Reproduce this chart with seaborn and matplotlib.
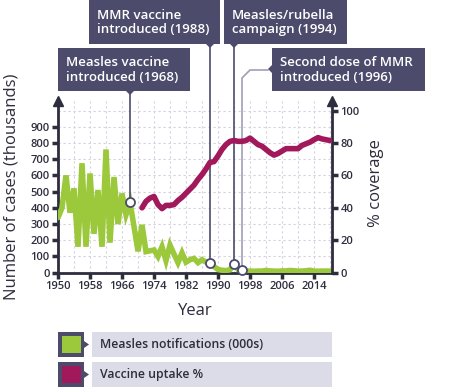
import numpy as np
import pandas as pd
import matplotlib
matplotlib.use("Agg")
import matplotlib.pyplot as plt
from matplotlib.patches import Rectangle, Polygon
import seaborn as sns

# measles notifications, England & Wales (thousands)
case_years = list(range(1950, 2019))
cases = [340, 400, 600, 370, 520, 160, 675, 160, 612, 240,
         510, 160, 760, 185, 590, 300, 488, 358, 434, 285,
         132, 295, 130, 135, 140, 100, 160, 75, 170, 115,
         62, 122, 65, 80, 88, 62, 80, 66, 62, 38,
         20, 15, 13, 18, 55, 20, 18, 11, 10, 9,
         10, 10, 14, 11, 10, 9, 11, 11, 14, 12,
         10, 10, 12, 15, 10, 9, 10, 10, 10]

# MMR / measles vaccine uptake (%)
uptake_years = list(range(1971, 2019))
uptake = [40, 44, 46, 47, 42, 39.5, 41.5, 41.5, 42, 44.5,
          46.5, 49, 51.5, 54, 57.5, 60.5, 64, 68, 68.5, 72,
          76, 79, 81, 81.5, 81, 81, 81.5, 83, 81, 79,
          78, 76, 74, 72.5, 73.5, 75, 76.5, 76.5, 76.5, 76.5,
          78.5, 79.5, 80.5, 82, 83.3, 82.5, 82, 81.5]

event_years = [1968, 1988, 1994, 1996]
event_text = ["Measles vaccine\nintroduced (1968)",
              "MMR vaccine\nintroduced (1988)",
              "Measles/rubella\ncampaign (1994)",
              "Second dose of MMR\nintroduced (1996)"]

x_ticks = list(range(1950, 2015, 8))
left_ticks = list(range(0, 1000, 100))
right_ticks = list(range(0, 101, 20))

legend_labels = ["Measles notifications (000s)", "Vaccine uptake %"]

GREEN = "#9cc93b"
PURPLE = "#a2195b"
NAVY = "#4c4b6c"
LAV = "#dcdbe8"
DARK = "#2e2d3d"
GRID = "#d3d1e0"

sns.set_style("white")
plt.rcParams["font.family"] = ["Open Sans", "DejaVu Sans"]

W, H = 464, 387
fig = plt.figure(figsize=(W / 100, H / 100), dpi=100)

x0, x1 = 58, 332
y_zero, y_top = 272.7, 100.8
ax = fig.add_axes([x0 / W, (H - y_zero) / H, (x1 - x0) / W, (y_zero - y_top) / H])
ax.set_xlim(1950, 2018.5)
ax.set_ylim(0, 1060)

# grid
for gx in range(1954, 2019, 4):
    ax.axvline(gx, color=GRID, lw=0.8, ls=(0, (2, 2.5)), zorder=0)
for gy in range(100, 1001, 100):
    ax.axhline(gy, color=GRID, lw=0.8, ls=(0, (2, 2.5)), zorder=0)

df_cases = pd.DataFrame({"year": case_years, "cases": cases})
sns.lineplot(data=df_cases, x="year", y="cases", ax=ax, color=GREEN, lw=4,
             solid_joinstyle="miter", zorder=3)

ax2 = ax.twinx()
ax2.set_ylim(0, 106)
df_up = pd.DataFrame({"year": uptake_years, "uptake": uptake})
sns.lineplot(data=df_up, x="year", y="uptake", ax=ax2, color=PURPLE, lw=4,
             zorder=3)

# axes styling
for a in (ax, ax2):
    for s in a.spines.values():
        s.set_visible(False)
    a.set_xlabel("")
    a.set_ylabel("")
ax.spines["left"].set_visible(True)
ax.spines["bottom"].set_visible(True)
ax2.spines["right"].set_visible(True)
for s in (ax.spines["left"], ax.spines["bottom"], ax2.spines["right"]):
    s.set_color(DARK)
    s.set_linewidth(2)

ax.plot([0, 1], [1, 1], "^", transform=ax.transAxes, color=DARK, ms=7,
        clip_on=False, zorder=6)

ax.set_xticks(x_ticks)
ax.set_xticklabels([str(t) for t in x_ticks])
ax.set_yticks(left_ticks)
ax.set_yticklabels([str(t) for t in left_ticks])
ax2.set_yticks(right_ticks)
ax2.set_yticklabels([str(t) for t in right_ticks])
ax.tick_params(axis="both", direction="out", length=4, width=2.5, color=DARK,
               labelsize=8, labelcolor=DARK, pad=2, left=True, bottom=True)
ax2.tick_params(axis="y", direction="out", length=4, width=2.5, color=DARK,
                labelsize=8, labelcolor=DARK, pad=2, right=True)
for lab in ax.get_xticklabels() + ax.get_yticklabels() + ax2.get_yticklabels():
    lab.set_fontweight("semibold")

ax.set_ylabel("Number of cases (thousands)", fontsize=12, color=DARK)
ax.yaxis.set_label_coords(-0.14, 0.5)
ax.set_xlabel("Year", fontsize=12, color=DARK)
ax.xaxis.set_label_coords(0.5, -0.175)
ax2.set_ylabel("% coverage", fontsize=12, color=DARK)
ax2.yaxis.set_label_coords(1.13, 0.52)

# event markers on the cases line
event_vals = np.interp(event_years, case_years, cases)
inv = ax.transData.inverted()


def px2data(px, py):
    return inv.transform((px, H - py))


box_bottom = [91, 44, 44, None]
for i, (yr, v) in enumerate(zip(event_years, event_vals)):
    col = NAVY if i < 3 else "#a09eb6"
    if box_bottom[i] is not None:
        top = px2data(0, box_bottom[i] + 3)[1]
        ax.plot([yr, yr], [v, top], color=col, lw=1.2, clip_on=False, zorder=4)
    else:
        mx = ax.transData.transform((yr, v))[0]
        pts = [(yr, v), (yr, px2data(0, 78)[1]),
               tuple(px2data(mx + 8, 70)), tuple(px2data(268, 70))]
        ax.plot([p[0] for p in pts], [p[1] for p in pts], color=col, lw=1.2,
                clip_on=False, zorder=4)
ax.plot(event_years, event_vals, "o", mfc="white", mec=NAVY, mew=1.3, ms=6.5,
        zorder=7, clip_on=False)

# overlay in pixel coordinates for boxes and legend
ov = fig.add_axes([0, 0, 1, 1], zorder=10)
ov.set_xlim(0, W)
ov.set_ylim(H, 0)
ov.axis("off")
ov.patch.set_alpha(0)

boxes = [(58, 48, 190, 91), (89, 0, 220, 44), (224, 0, 347, 44), (272, 48, 425, 91)]
for i, (bx0, by0, bx1, by1) in enumerate(boxes):
    ov.add_patch(Rectangle((bx0, by0), bx1 - bx0, by1 - by0, color=NAVY, lw=0))
    ov.text(bx0 + 8, (by0 + by1) / 2 + 0.5, event_text[i], color="white",
            fontsize=9.5, fontweight="semibold", va="center", ha="left",
            linespacing=1.15)
    if i < 3:
        px = ax.transData.transform((event_years[i], 0))[0]
        ov.add_patch(Polygon([(px - 4, by1), (px + 4, by1), (px, by1 + 4)],
                             color=NAVY, lw=0))
    else:
        ov.add_patch(Polygon([(bx0, 65), (bx0, 73), (bx0 - 4, 69)],
                             color=NAVY, lw=0))

# legend
rows = [(332, GREEN), (362, PURPLE)]
for (ry, c), lab in zip(rows, legend_labels):
    ov.add_patch(Rectangle((58, ry), 26, 25, color=NAVY, lw=0))
    ov.add_patch(Rectangle((62, ry + 4), 19, 17, color=c, lw=0))
    ov.add_patch(Polygon([(84, ry + 9), (84, ry + 16), (89, ry + 12.5)],
                         color=NAVY, lw=0))
    ov.add_patch(Rectangle((92, ry), 240, 25, color=LAV, lw=0))
    ov.text(100, ry + 12.5, lab, color=DARK, fontsize=8.8,
            fontweight="semibold", va="center", ha="left")

fig.savefig("out.png", dpi=100)
